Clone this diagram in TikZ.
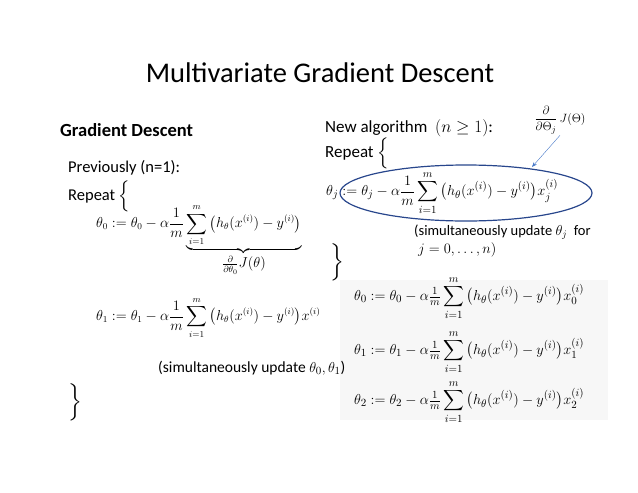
\documentclass[tikz,border=0pt]{standalone}
\usepackage{amsmath}
\usepackage{fontspec}
\setmainfont{Carlito}
\usetikzlibrary{arrows.meta}
\tikzset{eq/.style={anchor=west,inner sep=0pt,font=\fontsize{13.5}{15}\selectfont},
txt/.style={anchor=west,inner sep=0pt}}
\begin{document}
\begin{tikzpicture}[x=1pt,y=-1pt]
\useasboundingbox (0,0) rectangle (638,493);
\fill[black!3] (340,280) rectangle (608,420);
\node[inner sep=0pt,font=\fontsize{28.5}{32}\selectfont] (title) at (320,73) {Multivariate Gradient Descent};
% left
\node[txt,font=\bfseries\fontsize{18.5}{22}\selectfont] (gd) at (60,130) {Gradient Descent};
\node[txt,font=\fontsize{16.5}{20}\selectfont] (prev) at (68,168) {Previously (n=1):};
\node[txt,font=\fontsize{16.5}{20}\selectfont] (rep1) at (68,196) {Repeat $\Big\{$};
\node[eq] (e0) at (96,240) {$\theta_0 := \theta_0 - \alpha\dfrac{1}{m}\displaystyle\underbrace{\sum_{i=1}^{m}\big(h_\theta(x^{(i)})-y^{(i)}\big)}_{\textstyle\frac{\partial}{\partial\theta_0}J(\theta)}$};
\node[eq] (e1) at (96,318) {$\theta_1 := \theta_1 - \alpha\dfrac{1}{m}\displaystyle\sum_{i=1}^{m}\big(h_\theta(x^{(i)})-y^{(i)}\big)x^{(i)}$};
\node[txt,font=\fontsize{15.5}{18}\selectfont] (sim1) at (158,368) {(simultaneously update $\theta_0,\theta_1$)};
\node[txt,font=\fontsize{20}{22}\selectfont] (cl1) at (68,402) {$\Big\}$};
% right
\node[txt,font=\fontsize{17}{20}\selectfont] (new) at (325,128) {New algorithm \ $(n\geq 1)$:};
\node[txt,font=\fontsize{17}{20}\selectfont] (rep2) at (325,153) {Repeat $\Big\{$};
\node[eq,font=\fontsize{15}{17}\selectfont] (ej) at (326,193) {$\theta_j := \theta_j - \alpha\dfrac{1}{m}\displaystyle\sum_{i=1}^{m}\big(h_\theta(x^{(i)})-y^{(i)}\big)x_j^{(i)}$};
\draw[draw={rgb,255:red,40;green,70;blue,140},line width=1.2pt] (466,193) ellipse (126 and 28);
\node[txt,font=\fontsize{14.5}{17}\selectfont] (sim2) at (414,232) {(simultaneously update $\theta_j$ \ for};
\node[txt,font=\fontsize{14.5}{17}\selectfont] (sim3) at (418,250) {$j=0,\ldots,n)$};
\node[txt,font=\fontsize{20}{22}\selectfont] (cl2) at (330,262) {$\Big\}$};
\node[eq,font=\fontsize{15}{17}\selectfont] (f0) at (354,298) {$\theta_0 := \theta_0 - \alpha\frac{1}{m}\displaystyle\sum_{i=1}^{m}\big(h_\theta(x^{(i)})-y^{(i)}\big)x_0^{(i)}$};
\node[eq,font=\fontsize{15}{17}\selectfont] (f1) at (354,352) {$\theta_1 := \theta_1 - \alpha\frac{1}{m}\displaystyle\sum_{i=1}^{m}\big(h_\theta(x^{(i)})-y^{(i)}\big)x_1^{(i)}$};
\node[eq,font=\fontsize{15}{17}\selectfont] (f2) at (354,402) {$\theta_2 := \theta_2 - \alpha\frac{1}{m}\displaystyle\sum_{i=1}^{m}\big(h_\theta(x^{(i)})-y^{(i)}\big)x_2^{(i)}$};
% annotation
\node[inner sep=1pt,font=\fontsize{13}{15}\selectfont] (ann) at (560,120) {$\dfrac{\partial}{\partial\Theta_j}\,J(\Theta)$};
\draw[-{Stealth[length=5pt]},draw={rgb,255:red,70;green,120;blue,200}] (ann.south) -- (532,167);
\end{tikzpicture}
\end{document}
